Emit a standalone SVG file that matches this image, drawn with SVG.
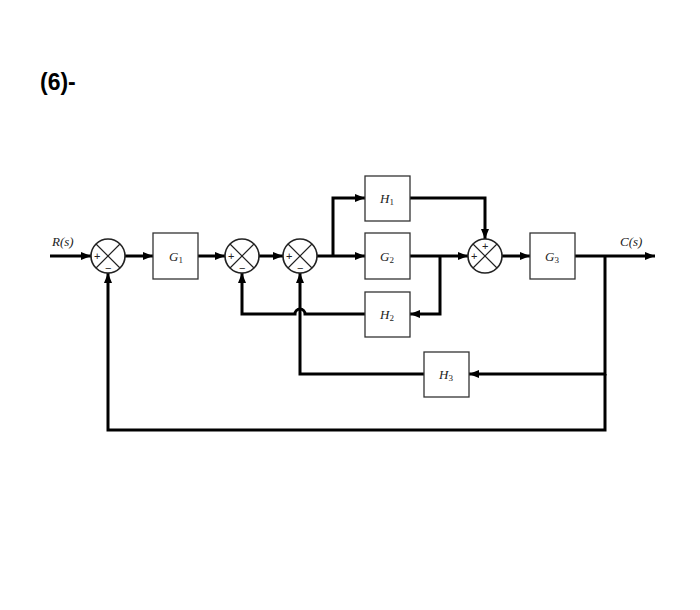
<svg xmlns="http://www.w3.org/2000/svg" width="700" height="610" viewBox="0 0 700 610">
<defs>
<marker id="a" markerWidth="10" markerHeight="8" refX="10" refY="4" orient="auto" markerUnits="userSpaceOnUse"><path d="M0,0 L10,4 L0,8 Z" fill="#000"/></marker>
<style>
.b{fill:#fff;stroke:#333;stroke-width:1.3}
.s{fill:#fff;stroke:#222;stroke-width:1.6}
.x{stroke:#222;stroke-width:1.2}
.l{fill:none;stroke:#000;stroke-width:3;marker-end:url(#a)}
.n{fill:none;stroke:#000;stroke-width:3}
.t{font-family:"Liberation Serif",serif;font-style:italic;font-size:13px;fill:#222}
.p{font-family:"Liberation Sans",sans-serif;font-size:11px;fill:#222}
</style>
</defs>
<rect width="700" height="610" fill="#fff"/>
<text x="40" y="90" font-family="Liberation Sans,sans-serif" font-weight="bold" font-size="23">(6)-</text>
<g id="connectors">
<path class="l" d="M50,256 H91"/>
<path class="l" d="M125,256 H153"/>
<path class="l" d="M198,256 H225"/>
<path class="l" d="M259,256 H283"/>
<path class="l" d="M317,256 H365"/>
<path class="l" d="M333,256 V198 H365"/>
<path class="l" d="M410,198 H485 V239"/>
<path class="l" d="M410,256 H468"/>
<path class="l" d="M440,256 V314 H410"/>
<path class="l" d="M502,256 H530"/>
<path class="l" d="M575,256 H655"/>
<path class="l" d="M605,256 V374 H469"/>
<path class="l" d="M424,374 H300 V273"/>
<path class="l" d="M365,314 H305 A5,5 0 0 0 295,314 H242 V273"/>
<path class="l" d="M605,374 V430 H108 V273"/>
</g>
<g id="sum1"><circle class="s" cx="108" cy="256" r="17"/><path class="x" d="M96,244 L120,268 M120,244 L96,268"/><text class="p" x="94" y="260">+</text><text class="p" x="105" y="272">−</text></g>
<g id="sum2"><circle class="s" cx="242" cy="256" r="17"/><path class="x" d="M230,244 L254,268 M254,244 L230,268"/><text class="p" x="228" y="260">+</text><text class="p" x="239" y="272">−</text></g>
<g id="sum3"><circle class="s" cx="300" cy="256" r="17"/><path class="x" d="M288,244 L312,268 M312,244 L288,268"/><text class="p" x="286" y="260">+</text><text class="p" x="297" y="272">−</text></g>
<g id="sum4"><circle class="s" cx="485" cy="256" r="17"/><path class="x" d="M473,244 L497,268 M497,244 L473,268"/><text class="p" x="471" y="260">+</text><text class="p" x="482" y="250">+</text></g>
<g id="G1"><rect class="b" x="153" y="233" width="45" height="46"/><text class="t" x="169" y="261">G<tspan font-size="9" font-style="normal" dy="2">1</tspan></text></g>
<g id="H1"><rect class="b" x="365" y="176" width="45" height="45"/><text class="t" x="380" y="203">H<tspan font-size="9" font-style="normal" dy="2">1</tspan></text></g>
<g id="G2"><rect class="b" x="365" y="233" width="45" height="46"/><text class="t" x="380" y="261">G<tspan font-size="9" font-style="normal" dy="2">2</tspan></text></g>
<g id="H2"><rect class="b" x="365" y="292" width="45" height="45"/><text class="t" x="380" y="319">H<tspan font-size="9" font-style="normal" dy="2">2</tspan></text></g>
<g id="G3"><rect class="b" x="530" y="233" width="45" height="46"/><text class="t" x="545" y="261">G<tspan font-size="9" font-style="normal" dy="2">3</tspan></text></g>
<g id="H3"><rect class="b" x="424" y="352" width="45" height="45"/><text class="t" x="439" y="379">H<tspan font-size="9" font-style="normal" dy="2">3</tspan></text></g>
<text class="t" x="52" y="246" font-size="12">R(s)</text>
<text class="t" x="620" y="246" font-size="12">C(s)</text>
</svg>
